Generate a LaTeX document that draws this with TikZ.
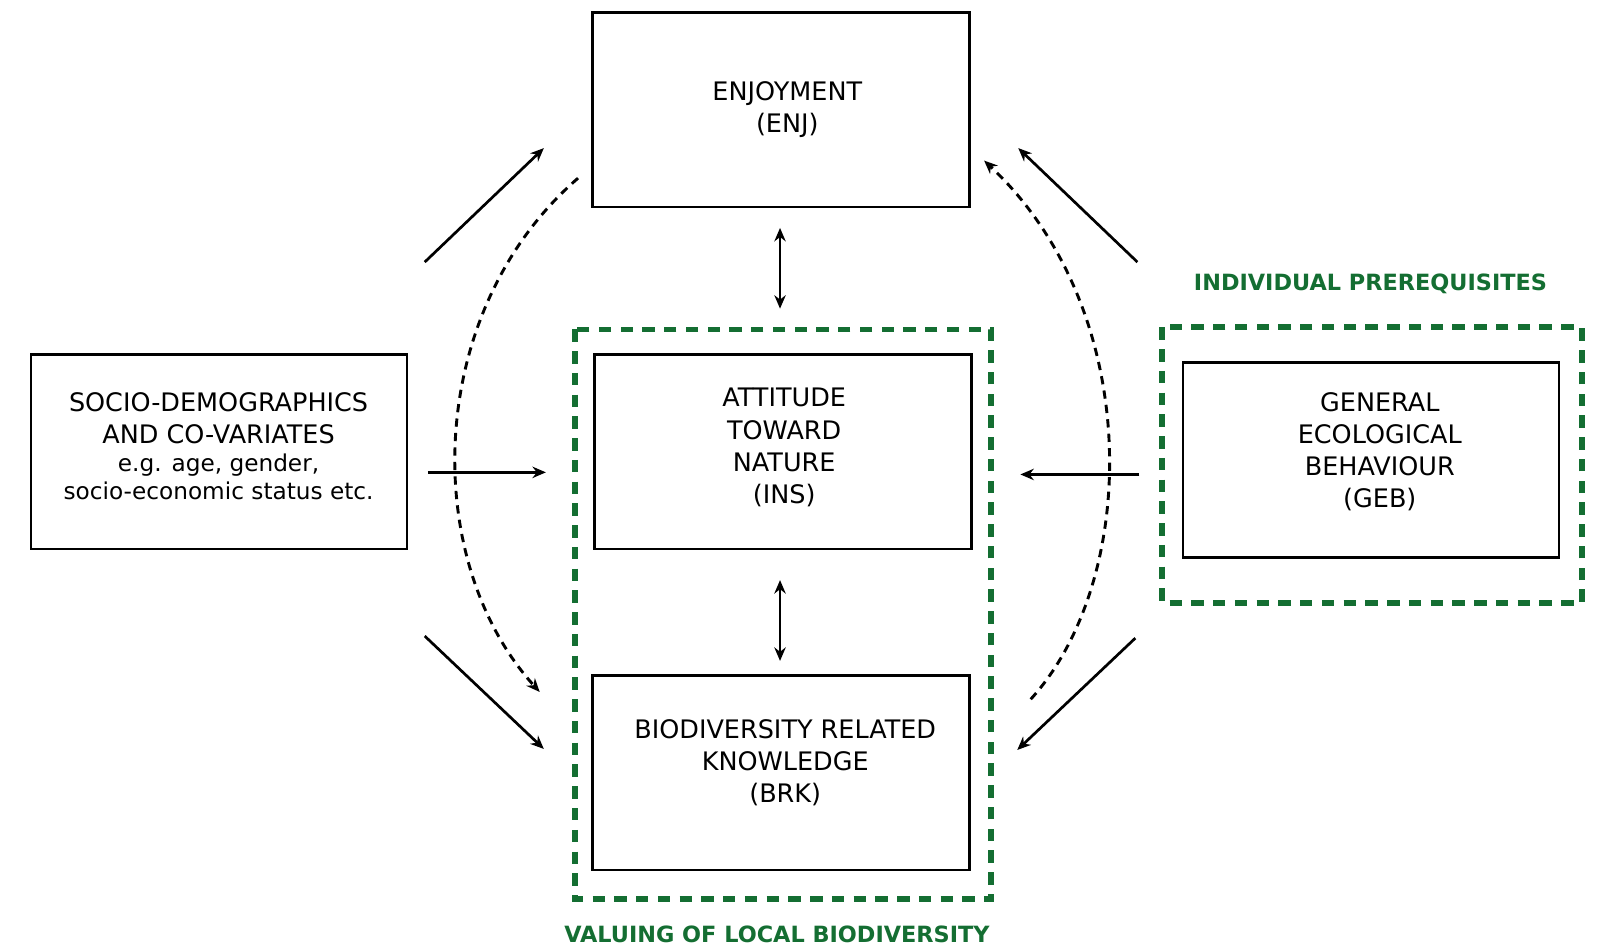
\documentclass[tikz,border=0pt]{standalone}
\usepackage{fontspec}
\setmainfont{DejaVu Sans}
\usetikzlibrary{arrows.meta}
\definecolor{gr}{RGB}{20,110,50}
\begin{document}
\begin{tikzpicture}[x=0.5pt,y=-0.5pt,
  box/.style={draw,line width=1.2pt,inner sep=0pt},
  gbox/.style={draw=gr,line width=2.8pt,dash pattern=on 6pt off 4.5pt},
  txt/.style={align=center,font=\fontsize{12.3}{15.5}\selectfont},
  arr/.style={-{Stealth[length=6.5pt,width=5.5pt]},line width=1.3pt},
  darr/.style={{Stealth[length=6.5pt,width=5.5pt]}-{Stealth[length=6.5pt,width=5.5pt]},line width=1.3pt},
  dsh/.style={arr,line width=1.4pt,dash pattern=on 4pt off 3pt},
  lab/.style={text=gr,font=\bfseries\fontsize{10.8}{12}\selectfont}]
\useasboundingbox (0,0) rectangle (1560,914);
\draw[box] (572,12) rectangle (936,200);
\node[txt] (enj) at (760,106) {ENJOYMENT\\(ENJ)};
\draw[gbox] (555,318) rectangle (957,868);
\draw[box] (574,342) rectangle (938,530);
\node[txt] (att) at (757,432) {ATTITUDE\\TOWARD\\NATURE\\(INS)};
\draw[box] (572,652) rectangle (936,840);
\node[txt] (brk) at (758,736) {BIODIVERSITY RELATED\\KNOWLEDGE\\(BRK)};
\draw[box] (30,342) rectangle (393,530);
\node[txt] (soc) at (211,431) {SOCIO-DEMOGRAPHICS\\AND CO-VARIATES\\[-2pt]{\fontsize{11.2}{14.5}\selectfont e.g. age, gender,}\\[-2pt]{\fontsize{11.2}{14.5}\selectfont socio-economic status etc.}};
\draw[gbox] (1122,316) rectangle (1527,582);
\draw[box] (1142,350) rectangle (1505,538);
\node[txt] (geb) at (1332,436) {GENERAL\\ECOLOGICAL\\BEHAVIOUR\\(GEB)};
\node[lab] (ip) at (1323,274) {INDIVIDUAL PREREQUISITES};
\node[lab] (vl) at (750,902) {VALUING OF LOCAL BIODIVERSITY};
\coordinate (a1) at (410,253); \coordinate (b1) at (525,143);
\coordinate (a2) at (413,456); \coordinate (b2) at (527,456);
\coordinate (a3) at (410,614); \coordinate (b3) at (525,723);
\coordinate (a4) at (1098,253); \coordinate (b4) at (983,143);
\coordinate (a5) at (1100,458); \coordinate (b5) at (985,458);
\coordinate (a6) at (1096,616); \coordinate (b6) at (982,724);
\draw[arr] (a1)--(b1); \draw[arr] (a2)--(b2); \draw[arr] (a3)--(b3);
\draw[arr] (a4)--(b4); \draw[arr] (a5)--(b5); \draw[arr] (a6)--(b6);
\coordinate (d1) at (753,220); \coordinate (d2) at (753,298);
\coordinate (d3) at (753,560); \coordinate (d4) at (753,638);
\draw[darr] (d1)--(d2); \draw[darr] (d3)--(d4);
\coordinate (c1) at (558,172); \coordinate (c2) at (521,668);
\coordinate (c3) at (995,675); \coordinate (c4) at (950,155);
\draw[dsh] (c1) .. controls (410,300) and (405,540) .. (c2);
\draw[dsh] (c3) .. controls (1100,560) and (1105,300) .. (c4);
\end{tikzpicture}
\end{document}
